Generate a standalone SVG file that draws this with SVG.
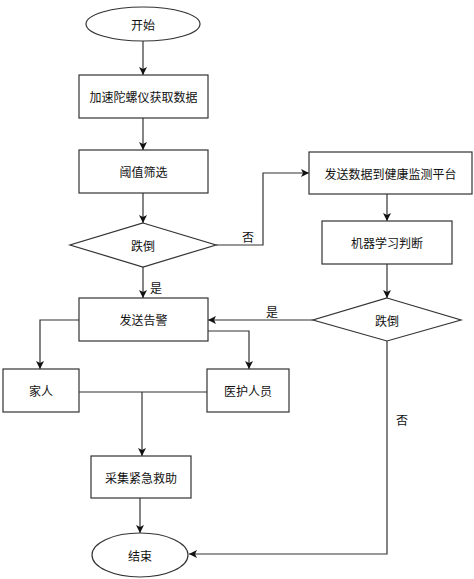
<svg xmlns="http://www.w3.org/2000/svg" width="474" height="579" viewBox="0 0 474 579">
<defs>
<style>
.n{fill:#fff;stroke:#333;stroke-width:1.2}
.e{fill:none;stroke:#333;stroke-width:1.2}
text{font-family:"Noto Sans CJK SC","Noto Sans",sans-serif;font-size:12px;fill:#111;text-anchor:middle;dominant-baseline:central}
</style>
<marker id="a" markerWidth="10" markerHeight="10" refX="8" refY="4" orient="auto" markerUnits="userSpaceOnUse">
<path d="M0,0 L8,4 L0,8 L2,4 Z" fill="#111"/>
</marker>
</defs>
<rect width="474" height="579" fill="#fff"/>
<g id="connectors">
<path class="e" d="M143,41 V75" marker-end="url(#a)"/>
<path class="e" d="M143,118 V150" marker-end="url(#a)"/>
<path class="e" d="M143,193 V223" marker-end="url(#a)"/>
<path class="e" d="M143,267 V298" marker-end="url(#a)"/>
<path class="e" d="M216,245 H263 V173 H309" marker-end="url(#a)"/>
<path class="e" d="M387,194 V221" marker-end="url(#a)"/>
<path class="e" d="M387,264 V298" marker-end="url(#a)"/>
<path class="e" d="M313,320 H208" marker-end="url(#a)"/>
<path class="e" d="M79,320 H40 V369" marker-end="url(#a)"/>
<path class="e" d="M208,331 H249 V369" marker-end="url(#a)"/>
<path class="e" d="M79,392 H207"/>
<path class="e" d="M142,392 V456" marker-end="url(#a)"/>
<path class="e" d="M140,498 V533" marker-end="url(#a)"/>
<path class="e" d="M387,341 V554 H189" marker-end="url(#a)"/>
<text x="156" y="287">是</text>
<text x="248" y="236">否</text>
<text x="272" y="311">是</text>
<text x="402" y="419">否</text>
</g>
<g id="start"><ellipse class="n" cx="143" cy="24" rx="57" ry="17"/><text x="143" y="24">开始</text></g>
<g id="acquire"><rect class="n" x="79" y="75" width="129" height="43"/><text x="143.5" y="96.5">加速陀螺仪获取数据</text></g>
<g id="filter"><rect class="n" x="79" y="150" width="129" height="43"/><text x="143.5" y="171.5">阈值筛选</text></g>
<g id="fall1"><path class="n" d="M143,223 L216,245 L143,267 L70,245 Z"/><text x="143" y="245">跌倒</text></g>
<g id="platform"><rect class="n" x="309" y="152" width="163" height="42"/><text x="390.5" y="173">发送数据到健康监测平台</text></g>
<g id="ml"><rect class="n" x="322" y="221" width="130" height="43"/><text x="387" y="242.5">机器学习判断</text></g>
<g id="fall2"><path class="n" d="M387,298 L461,320 L387,341 L313,320 Z"/><text x="387" y="320">跌倒</text></g>
<g id="alarm"><rect class="n" x="79" y="298" width="129" height="43"/><text x="143.5" y="319.5">发送告警</text></g>
<g id="family"><rect class="n" x="3" y="369" width="76" height="43"/><text x="41" y="390.5">家人</text></g>
<g id="medical"><rect class="n" x="207" y="369" width="82" height="43"/><text x="248" y="390.5">医护人员</text></g>
<g id="rescue"><rect class="n" x="91" y="456" width="100" height="42"/><text x="141" y="477">采集紧急救助</text></g>
<g id="end"><ellipse class="n" cx="140" cy="555" rx="48" ry="22"/><text x="140" y="555">结束</text></g>
</svg>
